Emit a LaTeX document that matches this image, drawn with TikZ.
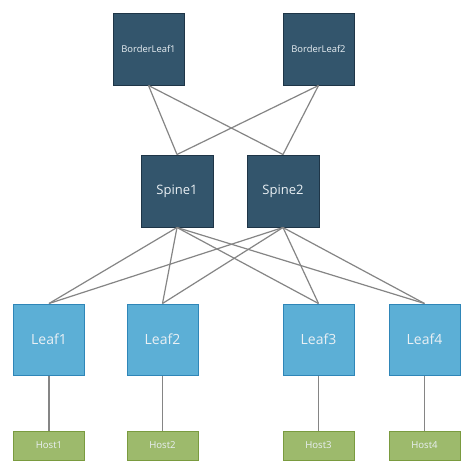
\documentclass[tikz,border=0pt]{standalone}
\usepackage{fontspec}
\setmainfont{Open Sans}
\definecolor{darkfill}{HTML}{33556C}
\definecolor{darkline}{HTML}{1E3547}
\definecolor{leaffill}{HTML}{5CAFD6}
\definecolor{leafline}{HTML}{2F86B8}
\definecolor{hostfill}{HTML}{9DBA6C}
\definecolor{hostline}{HTML}{7A9B3F}
\definecolor{linkgray}{HTML}{858585}
\definecolor{txt}{HTML}{EAF0F4}
\tikzset{
  box/.style={draw, line width=1pt, inner sep=0pt, text=txt, font=\fontsize{9}{10}\selectfont},
  border/.style={box, fill=darkfill, draw=darkline, minimum width=71pt, minimum height=72pt, font=\fontsize{9.4}{11}\selectfont},
  spine/.style={box, fill=darkfill, draw=darkline, minimum width=72pt, minimum height=72pt, font=\fontsize{13}{16}\selectfont},
  leaf/.style={box, fill=leaffill, draw=leafline, minimum width=71pt, minimum height=71pt, font=\fontsize{14}{16}\selectfont},
  host/.style={box, fill=hostfill, draw=hostline, minimum width=71pt, minimum height=29pt, font=\fontsize{9.6}{11}\selectfont},
  link/.style={draw=linkgray, line width=1.2pt}
}
\begin{document}
\begin{tikzpicture}[x=1pt,y=-1pt]
\useasboundingbox[fill=white] (0,0) rectangle (474,474);
\node[border] (bl1) at (148.5,49) {BorderLeaf1};
\node[border] (bl2) at (318.5,49) {BorderLeaf2};
\node[spine] (s1) at (177,191) {Spine1};
\node[spine] (s2) at (283,191) {Spine2};
\node[leaf] (l1) at (49,339.5) {Leaf1};
\node[leaf] (l2) at (162.5,339.5) {Leaf2};
\node[leaf] (l3) at (318.5,339.5) {Leaf3};
\node[leaf] (l4) at (424.5,339.5) {Leaf4};
\node[host] (h1) at (49,445.5) {Host1};
\node[host] (h2) at (162.5,445.5) {Host2};
\node[host] (h3) at (318.5,445.5) {Host3};
\node[host] (h4) at (424.5,445.5) {Host4};
\foreach \b in {bl1,bl2}{\foreach \s in {s1,s2}{\draw[link] (\b.south) -- (\s.north);}}
\foreach \s in {s1,s2}{\foreach \l in {l1,l2,l3,l4}{\draw[link] (\s.south) -- (\l.north);}}
\foreach \i in {1,2,3,4}{\draw[link] (l\i.south) -- (h\i.north);}
\end{tikzpicture}
\end{document}
